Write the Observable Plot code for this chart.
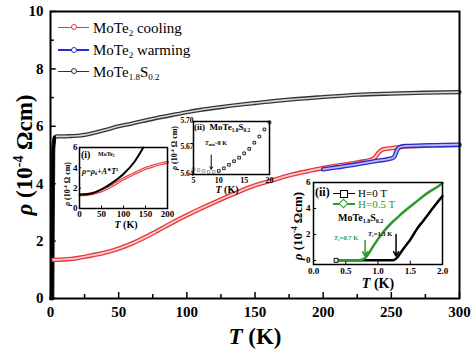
<!DOCTYPE html>
<html><head><meta charset="utf-8">
<script src="https://cdn.jsdelivr.net/npm/d3@7"></script>
<script src="https://cdn.jsdelivr.net/npm/@observablehq/plot@0.6"></script>
<style>
body{margin:0;background:#fff;}
#wrap{position:relative;width:474px;height:354px;overflow:hidden;font-family:'Liberation Serif','Times New Roman',Times,serif;color:#000;}
#wrap svg{position:absolute;}
#wrap svg text{font-family:'Liberation Serif','Times New Roman',Times,serif;}
.t{position:absolute;white-space:nowrap;line-height:1;}
.c{transform:translate(-50%,-50%);}
.r{transform:translate(-50%,-50%) rotate(-90deg);}
.b{font-weight:bold;}
sup{font-size:0.6em;vertical-align:0.6em;line-height:0;}
sub{font-size:0.6em;vertical-align:-0.3em;line-height:0;}
.sw{display:inline-block;position:relative;vertical-align:middle;height:1.6px;}
.mk{position:absolute;background:#fff;box-sizing:border-box;}
</style></head><body><div id="wrap"></div>
<script>
// ---- main panel data ----
const coolT   = [2, 5, 10, 15, 20, 25, 30, 40, 50, 60, 75, 90, 100, 110, 125, 140, 150, 160, 175, 190, 200, 210, 220, 230, 236, 238, 241, 244, 250, 255, 260, 280, 300];
const coolRho = [1.35, 1.35, 1.36, 1.38, 1.41, 1.45, 1.5, 1.6, 1.74, 1.92, 2.27, 2.66, 2.9, 3.13, 3.45, 3.76, 3.94, 4.08, 4.29, 4.45, 4.55, 4.63, 4.7, 4.78, 4.85, 4.92, 5.1, 5.2, 5.24, 5.27, 5.3, 5.33, 5.35];
const warmT   = [200, 210, 220, 230, 240, 250, 252, 254, 256, 260, 280, 300];
const warmRho = [4.5, 4.57, 4.64, 4.72, 4.8, 4.88, 4.93, 5.15, 5.27, 5.31, 5.34, 5.36];
const sT   = [0.4, 1.3, 1.6, 2, 3, 5, 10, 15, 20, 25, 30, 40, 50, 60, 75, 90, 100, 110, 125, 140, 150, 175, 200, 225, 250, 275, 300];
const sRho = [0, 0, 2.5, 5.2, 5.62, 5.65, 5.65, 5.66, 5.67, 5.7, 5.75, 5.87, 6.0, 6.1, 6.26, 6.4, 6.49, 6.57, 6.67, 6.76, 6.81, 6.93, 7.02, 7.1, 7.14, 7.17, 7.19];
const xTicks = [0, 50, 100, 150, 200, 250, 300];
const xMinor = [25, 75, 125, 175, 225, 275];
const yTicks = [0, 2, 4, 6, 8, 10];
const yMinor = [1, 3, 5, 7, 9];
const seriesNames = ["MoTe<sub>2</sub> cooling", "MoTe<sub>2</sub> warming", "MoTe<sub>1.8</sub>S<sub>0.2</sub>"];
const seriesColors = ["#e8383b", "#2b2bcc", "#333333"];
const seriesInner = ["#f9cccc", "#b9b9ee", "#dddddd"];

// ---- inset (i) MoTe2 fit ----
const fitT   = [0, 25, 50, 75, 100, 125, 145];
const fitRho = [1.35, 1.45, 1.88, 2.55, 3.4, 4.6, 6.0];
const i1xTicks = [0, 50, 100, 150, 200];
const i1yTicks = [0, 2, 4, 6];

// ---- inset (ii) top: MoTe1.8S0.2 low-T minimum ----
const minT   = [5, 6, 7, 8, 9, 10, 11, 12, 13, 14, 15, 16, 17, 18, 19, 20];
const minRho = [5.646, 5.645, 5.644, 5.643, 5.643, 5.644, 5.647, 5.651, 5.655, 5.659, 5.664, 5.669, 5.676, 5.683, 5.691, 5.699];
const i2xTicks = [5, 10, 15, 20];
const i2yTicks = [5.64, 5.67, 5.70];
const tminArrow = [{x: 8.5, y1: 5.662, y2: 5.646}];

// ---- inset (ii) bottom: superconducting transition ----
const h0T   = [0.35, 0.5, 0.8, 1.0, 1.2, 1.25, 1.3, 1.35, 1.4, 1.45, 1.5, 1.6, 1.7, 1.8, 1.9, 2.0];
const h0Rho = [0.02, 0.02, 0.02, 0.02, 0.03, 0.05, 0.25, 0.6, 0.95, 1.27, 1.6, 2.4, 3.05, 3.7, 4.35, 4.95];
const h5T   = [0.35, 0.5, 0.7, 0.75, 0.8, 0.85, 0.9, 1.0, 1.1, 1.2, 1.3, 1.4, 1.5, 1.6, 1.7, 1.8, 1.9, 2.0];
const h5Rho = [0.02, 0.02, 0.03, 0.06, 0.2, 0.5, 0.9, 1.65, 2.3, 2.85, 3.3, 3.75, 4.15, 4.55, 4.95, 5.3, 5.6, 5.95];
const i3xTicks = [0, 0.5, 1.0, 1.5, 2.0];
const i3yTicks = [0, 2, 4, 6];
const tcArrows = [{x: 0.8, y1: 1.55, y2: 0.35, c: "#2a9a2a"}, {x: 1.28, y1: 2.0, y2: 0.35, c: "#000"}];

const green = "#2a9a2a";
const zip = (a, b) => a.map((v, i) => ({x: v, y: b[i]}));
const cool = zip(coolT, coolRho), warm = zip(warmT, warmRho), s = zip(sT, sRho);
const wrap = document.getElementById("wrap");
const font = "'Liberation Serif', 'Times New Roman', Times, serif";

function place(svg, left, top) { svg.style.left = left + "px"; svg.style.top = top + "px"; wrap.appendChild(svg); }
function tube(data, outer, inner, w1, w2, extra = {}) {
  return [Plot.line(data, {x: "x", y: "y", stroke: outer, strokeWidth: w1, curve: "monotone-x", ...extra}),
          Plot.line(data, {x: "x", y: "y", stroke: inner, strokeWidth: w2, curve: "monotone-x", ...extra})];
}

// ---- main plot ----
const main = Plot.plot({
  width: 474, height: 354, marginLeft: 50, marginRight: 15, marginTop: 11, marginBottom: 56,
  x: {domain: [0, 300]}, y: {domain: [0, 10]},
  style: {fontFamily: font, fontWeight: "bold", fontSize: "15px", background: "transparent", overflow: "visible"},
  marks: [
    Plot.axisX(xTicks, {tickSize: 0, tickPadding: 8, fontSize: 15, label: null}),
    Plot.axisY(yTicks, {tickSize: 0, tickPadding: 7, fontSize: 15, label: null}),
    Plot.ruleX(xTicks, {x: d => d, y1: 0, y2: 0.21, strokeWidth: 1.5}),
    Plot.ruleX(xMinor, {x: d => d, y1: 0, y2: 0.14, strokeWidth: 1.5}),
    Plot.ruleY(yTicks, {y: d => d, x1: 0, x2: 4.2, strokeWidth: 1.5}),
    Plot.ruleY(yMinor, {y: d => d, x1: 0, x2: 2.8, strokeWidth: 1.5}),
    ...tube(s, "#333", "#d6d6d6", 4.2, 1.6),
    Plot.line(s, {x: "x", y: "y", stroke: "#000", strokeWidth: 3, filter: d => d.x <= 4}),
    ...tube(cool, seriesColors[0], seriesInner[0], 4.5, 1.8),
    ...tube(warm, seriesColors[1], seriesInner[1], 4.5, 1.8),
    Plot.frame({strokeWidth: 2})
  ]
});
place(main, 0, 0);

// ---- inset (i) ----
const in1 = Plot.plot({
  width: 112, height: 92, marginLeft: 19, marginRight: 5, marginTop: 7, marginBottom: 24,
  x: {domain: [0, 200]}, y: {domain: [0, 6]},
  style: {fontFamily: font, fontWeight: "bold", fontSize: "9px", background: "transparent", overflow: "visible"},
  marks: [
    Plot.axisX(i1xTicks, {tickSize: 0, tickPadding: 2, fontSize: 9, label: null}),
    Plot.axisY(i1yTicks, {tickSize: 0, tickPadding: 2, fontSize: 9, label: null}),
    Plot.ruleX(i1xTicks, {x: d => d, y1: 0, y2: 0.25, strokeWidth: 1}),
    Plot.ruleY(i1yTicks, {y: d => d, x1: 0, x2: 5, strokeWidth: 1}),
    ...tube(cool.filter(d => d.x <= 200), seriesColors[0], seriesInner[0], 3, 1),
    Plot.line(zip(fitT, fitRho), {x: "x", y: "y", stroke: "#000", strokeWidth: 2, curve: "monotone-x"}),
    Plot.frame({strokeWidth: 1.5})
  ]
});
place(in1, 60, 140);

// ---- inset (ii) top ----
const in2 = Plot.plot({
  width: 104, height: 80, marginLeft: 23, marginRight: 5, marginTop: 7, marginBottom: 20,
  x: {domain: [5, 20]}, y: {domain: [5.64, 5.70]},
  style: {fontFamily: font, fontWeight: "bold", fontSize: "8px", background: "transparent", overflow: "visible"},
  marks: [
    Plot.axisX(i2xTicks, {tickSize: 0, tickPadding: 3, fontSize: 8, label: null}),
    Plot.axisY(i2yTicks, {tickSize: 0, tickPadding: 0, fontSize: 7.5, label: null, tickFormat: d3.format(".2f"), dy: -1}),
    Plot.dot(zip(minT, minRho), {x: "x", y: "y", symbol: "square", r: 1.5, fill: "white", stroke: d => d.x <= 9.5 ? "#999" : "#111", strokeWidth: 0.9}),
    Plot.arrow(tminArrow, {x1: "x", x2: "x", y1: "y1", y2: "y2", stroke: "#000", strokeWidth: 1, headLength: 4}),
    Plot.frame({strokeWidth: 1.5})
  ]
});
place(in2, 170, 114);

// ---- inset (ii) bottom ----
const h0 = zip(h0T, h0Rho), h5 = zip(h5T, h5Rho);
const in3 = Plot.plot({
  width: 162, height: 116, marginLeft: 28, marginRight: 5, marginTop: 6, marginBottom: 28,
  x: {domain: [0, 2]}, y: {domain: [-0.3, 6]},
  style: {fontFamily: font, fontWeight: "bold", fontSize: "9px", background: "transparent", overflow: "visible"},
  marks: [
    Plot.axisX(i3xTicks, {tickSize: 0, tickPadding: 3, fontSize: 9, label: null, tickFormat: d3.format(".1f")}),
    Plot.axisY(i3yTicks, {tickSize: 0, tickPadding: 3, fontSize: 9, label: null}),
    Plot.ruleX(i3xTicks, {x: d => d, y1: -0.3, y2: -0.05, strokeWidth: 1}),
    Plot.ruleY(i3yTicks, {y: d => d, x1: 0, x2: 0.05, strokeWidth: 1}),
    Plot.line(h0, {x: "x", y: "y", stroke: "#000", strokeWidth: 2.5, curve: "monotone-x"}),
    Plot.line(h5, {x: "x", y: "y", stroke: green, strokeWidth: 2.5, curve: "monotone-x"}),
    Plot.dot(h0.slice(0, 1), {x: "x", y: "y", symbol: "square", r: 2.2, fill: "white", stroke: "#000", strokeWidth: 1}),
    Plot.arrow(tcArrows, {x1: "x", x2: "x", y1: "y1", y2: "y2", stroke: "c", strokeWidth: 1.5, headLength: 5}),
    Plot.frame({strokeWidth: 1.5})
  ]
});
place(in3, 285, 176);

// ---- text overlays ----
function txt(html, cls, left, top, css = "") {
  const d = document.createElement("div");
  d.className = "t " + cls; d.innerHTML = html;
  d.style.cssText = `left:${left}px;top:${top}px;` + css;
  wrap.appendChild(d);
}
txt("<i>T</i> (K)", "c b", 255, 336, "font-size:23px;");
txt("<i>ρ</i> (10<sup>-4</sup> Ωcm)", "r b", 24, 155, "font-size:23px;");
seriesNames.forEach((n, i) => {
  const cy = [26, 48.5, 70][i];
  txt(`<span class="sw" style="width:31px;background:${seriesColors[i]}"><span class="mk" style="left:12.5px;top:-2.6px;width:6px;height:6px;border:1px solid ${seriesColors[i]};border-radius:50%"></span></span><span style="margin-left:4px;vertical-align:middle">${n}</span>`, "", 58, cy - 8, "font-size:15px;line-height:16px;");
});
// inset (i)
txt("(i)", "b", 81, 150, "font-size:10px;");
txt("MoTe<sub>2</sub>", "b", 98, 151, "font-size:6px;");
txt("<i>ρ</i>=<i>ρ</i><sub>0</sub>+<i>A</i>*<i>T</i><sup>2</sup>", "b", 82, 168, "font-size:8px;");
txt("<i>ρ</i> (10<sup>-4</sup> Ω cm)", "r b", 68, 184, "font-size:8px;");
txt("<i>T</i> (K)", "c b", 126, 225, "font-size:10px;");
// inset (ii) top
txt("(ii)&nbsp; MoTe<sub>1.8</sub>S<sub>0.2</sub>", "b", 194, 123, "font-size:9px;");
txt("<i>T</i><sub>min</sub>~8 K", "b", 205, 140, "font-size:6px;");
txt("<i>ρ</i> (10<sup>-4</sup> Ω cm)", "r b", 175, 148, "font-size:8px;");
txt("<i>T</i> (K)", "c b", 227, 190, "font-size:10px;");
// inset (ii) bottom
txt("(ii)", "b", 315, 186, "font-size:12px;");
txt(`<span class="sw" style="width:22px;background:#000"><span class="mk" style="left:7px;top:-3px;width:8px;height:8px;border:1.2px solid #000"></span></span><span style="margin-left:3px;vertical-align:middle">H=0 T</span>`, "", 333, 187, "font-size:11px;line-height:10px;");
txt(`<span class="sw" style="width:22px;background:${green}"><span class="mk" style="left:7px;top:-3.5px;width:7px;height:7px;border:1.2px solid ${green};transform:rotate(45deg)"></span></span><span style="margin-left:3px;vertical-align:middle;color:${green}">H=0.5 T</span>`, "", 333, 197.5, "font-size:11px;line-height:10px;");
txt("MoTe<sub>1.8</sub>S<sub>0.2</sub>", "b", 338, 213, "font-size:10px;");
txt("<i>T</i><sub>c</sub>=0.7 K", "b", 334, 235, `font-size:6.5px;color:${green};`);
txt("<i>T</i><sub>c</sub>=1.3 K", "b", 368, 231, "font-size:6.5px;");
txt("<i>ρ</i> (10<sup>-4</sup> Ωcm)", "r b", 297, 226, "font-size:13px;");
txt("<i>T</i> (K)", "c b", 378, 284, "font-size:14px;");
</script></body></html>
